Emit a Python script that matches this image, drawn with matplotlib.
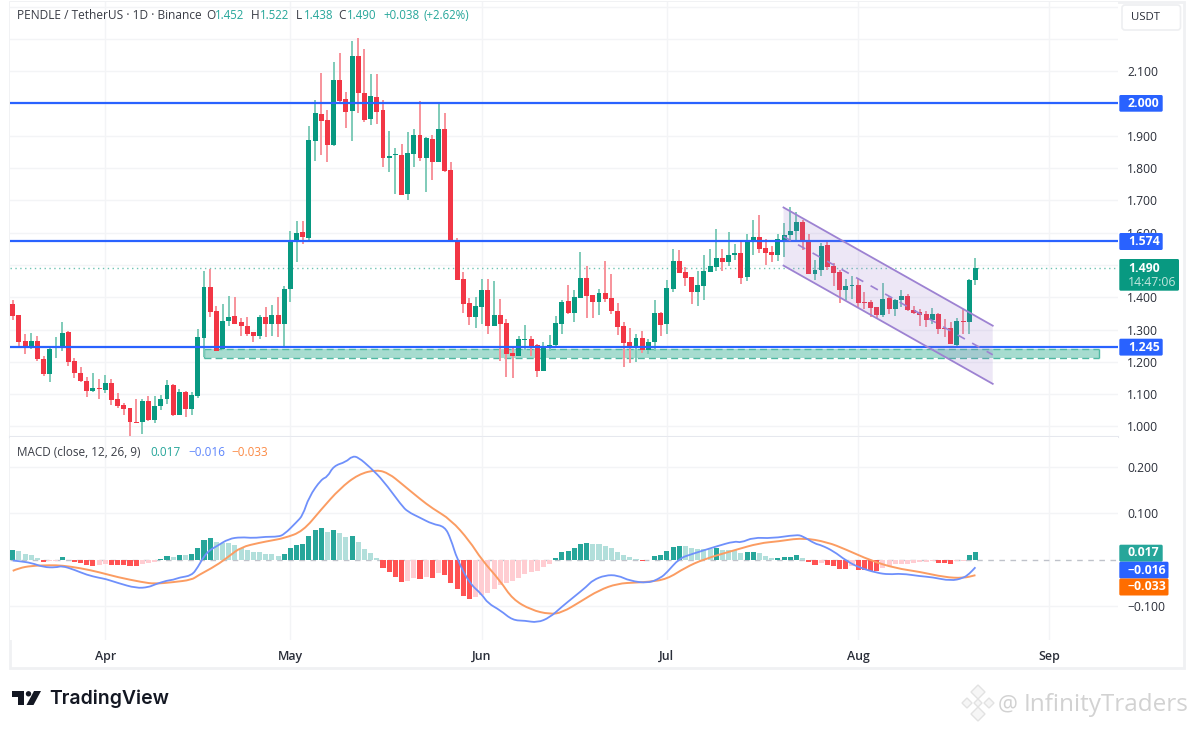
import matplotlib
matplotlib.use("Agg")
import matplotlib.pyplot as plt
from matplotlib.patches import Rectangle, FancyBboxPatch, Polygon, Circle, PathPatch
from matplotlib.path import Path

W, H = 1195, 729

# daily candles, first one is 17 March, last one 20 August
opens = [1.378,1.345,1.264,1.246,1.266,1.210,1.163,1.242,1.246,1.292,
         1.202,1.167,1.142,1.109,1.118,1.113,1.134,1.084,1.066,1.058,
         1.015,1.014,1.078,1.020,1.064,1.086,1.127,1.037,1.106,1.053,
         1.095,1.275,1.432,1.359,1.239,1.326,1.341,1.322,1.310,1.291,
         1.281,1.339,1.318,1.345,1.318,1.426,1.574,1.603,1.584,1.884,
         1.967,1.948,1.870,2.072,2.014,1.977,2.146,2.033,1.952,2.020,
         1.979,1.832,1.839,1.840,1.721,1.845,1.902,1.832,1.889,1.820,
         1.921,1.793,1.576,1.456,1.382,1.339,1.370,1.421,1.312,1.345,
         1.320,1.227,1.219,1.269,1.272,1.252,1.173,1.248,1.252,1.318,
         1.388,1.351,1.399,1.460,1.407,1.385,1.413,1.398,1.357,1.310,
         1.261,1.244,1.274,1.237,1.260,1.351,1.316,1.427,1.512,1.478,
         1.462,1.416,1.436,1.479,1.495,1.522,1.509,1.530,1.537,1.463,
         1.575,1.586,1.553,1.540,1.531,1.576,1.593,1.605,1.632,1.574,
         1.473,1.483,1.561,1.498,1.477,1.423,1.434,1.437,1.384,1.384,
         1.370,1.345,1.398,1.364,1.390,1.403,1.360,1.353,1.347,1.330,
         1.347,1.305,1.304,1.252,1.326,1.322,1.452]
highs = [1.390,1.346,1.285,1.289,1.279,1.217,1.246,1.277,1.323,1.297,
         1.213,1.184,1.153,1.165,1.146,1.159,1.146,1.103,1.072,1.058,
         1.084,1.086,1.095,1.093,1.099,1.144,1.132,1.115,1.111,1.107,
         1.303,1.481,1.489,1.372,1.378,1.405,1.401,1.335,1.339,1.293,
         1.345,1.370,1.376,1.401,1.434,1.605,1.636,1.636,1.929,2.010,
         2.095,1.979,2.128,2.157,2.035,2.192,2.202,2.169,2.091,2.091,
         2.010,1.915,1.863,1.874,1.911,1.921,2.008,1.896,1.901,2.000,
         1.971,1.819,1.584,1.479,1.398,1.401,1.458,1.456,1.450,1.394,
         1.332,1.246,1.279,1.314,1.279,1.256,1.260,1.283,1.341,1.392,
         1.438,1.421,1.540,1.498,1.407,1.425,1.512,1.471,1.382,1.322,
         1.304,1.285,1.297,1.271,1.390,1.353,1.454,1.550,1.545,1.494,
         1.463,1.481,1.530,1.549,1.611,1.550,1.602,1.564,1.574,1.597,
         1.640,1.655,1.581,1.558,1.597,1.630,1.680,1.663,1.640,1.597,
         1.514,1.568,1.571,1.506,1.483,1.456,1.465,1.461,1.415,1.392,
         1.370,1.444,1.403,1.395,1.421,1.411,1.372,1.363,1.359,1.367,
         1.351,1.332,1.322,1.335,1.363,1.456,1.522]
lows = [1.330,1.246,1.223,1.240,1.202,1.155,1.138,1.213,1.233,1.188,
        1.151,1.137,1.091,1.106,1.086,1.103,1.068,1.058,1.035,0.971,
        1.010,0.977,1.016,1.010,1.051,1.070,1.033,1.035,1.029,1.035,
        1.089,1.215,1.339,1.233,1.237,1.312,1.316,1.281,1.281,1.262,
        1.270,1.277,1.281,1.277,1.246,1.385,1.509,1.566,1.574,1.822,
        1.841,1.819,1.868,1.998,1.925,1.884,1.969,1.944,1.934,1.936,
        1.803,1.789,1.721,1.717,1.702,1.803,1.822,1.727,1.764,1.818,
        1.789,1.570,1.452,1.351,1.314,1.306,1.318,1.287,1.310,1.204,
        1.153,1.151,1.217,1.237,1.217,1.153,1.171,1.233,1.250,1.287,
        1.347,1.323,1.397,1.337,1.337,1.345,1.386,1.347,1.283,1.184,
        1.198,1.199,1.227,1.225,1.235,1.279,1.285,1.416,1.475,1.434,
        1.378,1.372,1.392,1.477,1.481,1.481,1.498,1.514,1.442,1.450,
        1.531,1.537,1.500,1.510,1.512,1.525,1.576,1.576,1.547,1.473,
        1.452,1.467,1.485,1.436,1.382,1.390,1.395,1.368,1.365,1.339,
        1.334,1.339,1.347,1.341,1.370,1.359,1.347,1.312,1.308,1.318,
        1.287,1.277,1.254,1.250,1.287,1.287,1.438]
closes = [1.343,1.262,1.246,1.266,1.208,1.163,1.239,1.246,1.289,1.200,
          1.165,1.140,1.109,1.119,1.116,1.134,1.082,1.064,1.053,1.014,
          1.012,1.078,1.020,1.062,1.084,1.127,1.035,1.106,1.053,1.097,
          1.277,1.432,1.355,1.235,1.326,1.339,1.318,1.310,1.287,1.281,
          1.339,1.318,1.345,1.316,1.427,1.574,1.599,1.587,1.886,1.971,
          1.946,1.870,2.072,2.008,1.975,2.146,2.031,1.948,2.022,1.974,
          1.832,1.836,1.842,1.717,1.847,1.902,1.832,1.893,1.820,1.921,
          1.791,1.574,1.454,1.380,1.339,1.372,1.421,1.312,1.345,1.318,
          1.225,1.219,1.270,1.272,1.248,1.173,1.248,1.251,1.320,1.384,
          1.351,1.401,1.460,1.405,1.385,1.413,1.395,1.357,1.308,1.258,
          1.244,1.273,1.237,1.260,1.351,1.314,1.428,1.512,1.476,1.460,
          1.416,1.437,1.480,1.496,1.521,1.509,1.530,1.537,1.461,1.576,
          1.586,1.550,1.537,1.531,1.581,1.592,1.605,1.632,1.576,1.473,
          1.483,1.558,1.494,1.476,1.423,1.434,1.437,1.383,1.382,1.368,
          1.345,1.394,1.363,1.390,1.403,1.361,1.351,1.345,1.330,1.347,
          1.303,1.302,1.254,1.326,1.323,1.452,1.490]

# macd histogram, one value per candle
hist = [.0215,.018,.012,.011,.0036,-.005,-.002,-.0015,.0057,-.0007,
        -.0043,-.0072,-.0108,-.0136,-.0122,-.0100,-.0108,-.0115,-.0118,-.0129,
        -.0136,-.0086,-.0079,-.005,.0022,.0079,.005,.01,.01,.0129,
        .0251,.0416,.0466,.0373,.0366,.0358,.0308,.0251,.0215,.0172,
        .0172,.0129,.0129,.0086,.0129,.0244,.0315,.0344,.0516,.0645,
        .0688,.0602,.0645,.0573,.0487,.0502,.0387,.0229,.0143,.0029,
        -.0172,-.0265,-.0358,-.0466,-.0452,-.0394,-.0416,-.0373,-.0387,-.0287,
        -.033,-.0502,-.0631,-.0774,-.0832,-.0803,-.076,-.0703,-.0616,-.0545,
        -.0502,-.0444,-.0394,-.0315,-.0258,-.0244,-.0158,-.0086,.0029,.0158,
        .0186,.0251,.0344,.0351,.033,.033,.0301,.0258,.0172,.01,
        .0057,.0022,-.0022,-.0007,.0072,.01,.0179,.0272,.0301,.0294,
        .0244,.0237,.0229,.0222,.0244,.0215,.0208,.0201,.0143,.0158,
        .0165,.0143,.0086,.0036,.0043,.0057,.0065,.0093,.0029,-.0057,
        -.0115,-.0072,-.0108,-.0143,-.0194,-.0201,-.0143,-.0215,-.0229,-.0237,
        -.0244,-.0172,-.0129,-.01,-.0086,-.0086,-.0072,-.0057,-.0043,-.0036,
        -.0065,-.0072,-.0086,-.0036,-.0022,.0093,.017]

# macd and signal lines, read at these candle numbers
macd_days = [0,1,3,5,7,8,10,12,14,15,17,20,22,23,25,26,27,29,30,31,32,33,35,37,39,41,43,44,46,47,48,
             50,51,52,54,55,56,58,60,63,64,66,68,70,71,72,74,76,77,79,81,83,85,87,89,91,93,94,96,98,
             100,103,105,106,108,110,114,117,118,120,123,127,128,130,131,133,135,137,140,142,144,147,
             149,152,154,155,156]
macd_vals = [-.0014,-.0029,-.0065,-.0158,-.0165,-.0129,-.0215,-.0323,-.0387,-.0409,-.0495,-.0609,-.0588,
             -.0530,-.0444,-.043,-.038,-.0337,-.0158,.0079,.0215,.0287,.0452,.0487,.0466,.0495,.0495,
             .0545,.081,.0953,.1348,.1728,.1778,.2014,.21,.2222,.2201,.1971,.1706,.1168,.1032,.0903,
             .0767,.0717,.0444,.0014,-.0502,-.0738,-.0932,-.1082,-.1297,-.1305,-.1348,-.124,-.1004,
             -.0789,-.0573,-.0437,-.033,-.033,-.0452,-.0502,-.0387,-.0272,.0029,.0122,.0287,.0401,
             .0366,.048,.0459,.0538,.0509,.0344,.0315,.0186,-.0014,-.0158,-.028,-.0315,-.0294,-.0351,
             -.0373,-.0452,-.0394,-.0301,-.016]
signal_days = [0,1,3,6,8,11,14,17,21,23,26,29,30,33,35,37,40,42,44,47,50,53,56,59,61,63,66,68,71,74,76,
               79,81,84,87,89,92,95,98,101,103,106,109,112,117,121,124,128,132,135,139,143,147,151,154,156]
signal_vals = [-.0237,-.0179,-.0129,-.0115,-.0122,-.0179,-.0265,-.0373,-.048,-.0516,-.048,-.043,-.0337,
               -.0122,.0072,.0272,.0366,.0416,.0466,.0609,.1082,.1527,.1835,.1935,.1849,.1634,.1305,
               .1104,.086,.0409,0,-.0452,-.0846,-.1075,-.1168,-.1133,-.0896,-.0652,-.0509,-.0487,-.0473,
               -.0416,-.0165,.0014,.0208,.0358,.0394,.0473,.038,.0222,-.0014,-.0179,-.0258,-.0373,-.0394,-.033]

levels = [2.000, 1.574, 1.245]
last_price = 1.490
zone_days = (31, 176)
zone_prices = (1.2128, 1.2395)
channel_days = (124.9, 158.8)
channel_upper = (1.678, 1.312)
channel_lower = (1.498, 1.132)

price_ticks = [1.0,1.1,1.2,1.3,1.4,1.5,1.6,1.7,1.8,1.9,2.0,2.1,2.2,2.3]
price_ticks_shown = ["1.000","1.100","1.200","1.300","1.400","","1.600","1.700","1.800","1.900","","2.100","",""]
macd_ticks = [-0.1, 0.1, 0.2]
macd_tick_labels = ["\u22120.100", "0.100", "0.200"]
month_days = [15, 45, 76, 106, 137, 168]
month_labels = ["Apr", "May", "Jun", "Jul", "Aug", "Sep"]

UP, DOWN = "#089981", "#f23645"
UP_WICK, DOWN_WICK = "#7fcbb9", "#f7939b"
BLUE, ORANGE = "#2962ff", "#ff6d00"
TEXT = "#3a3d46"
GRID = "#f3f4f6"
FONT = "Open Sans"

plt.rcParams["font.family"] = FONT

fig = plt.figure(figsize=(W / 100, H / 100), dpi=100, facecolor="white")


def pane(left, top, right, bottom):
    return fig.add_axes([left / W, 1 - bottom / H, (right - left) / W, (bottom - top) / H])


def put(x, y, s, color=TEXT, size=8.6, **kw):
    # text placed in picture pixels
    return fig.text(x / W, 1 - y / H, s, color=color, fontsize=size, va="center", **kw)


def box(x0, y0, x1, y1, color, zorder=5):
    p = FancyBboxPatch((x0, H - y1), x1 - x0, y1 - y0, boxstyle="round,pad=0,rounding_size=1.5",
                       transform=None, facecolor=color, edgecolor="none", zorder=zorder)
    # transform=None means display pixels at dpi 100
    fig.add_artist(p)


def soft_line(a, xs, ys, color, lw, zorder):
    # rounded corners between the read points, the tv lines are not angular
    pts = list(zip(xs, ys))
    verts, codes = [pts[0]], [Path.MOVETO]
    for p, q in zip(pts[1:-1], pts[2:]):
        verts += [p, ((p[0] + q[0]) / 2, (p[1] + q[1]) / 2)]
        codes += [Path.CURVE3, Path.CURVE3]
    verts.append(pts[-1])
    codes.append(Path.LINETO)
    a.add_patch(PathPatch(Path(verts, codes), fill=False, edgecolor=color, lw=lw, zorder=zorder))


ax = pane(10, 2, 1118, 436.5)
ax2 = pane(10, 436.5, 1118, 640)
for a in (ax, ax2):
    a.set_xlim(-0.44, 179.1)
    for s in a.spines.values():
        s.set_visible(False)
    a.set_xticks(month_days)
    a.grid(True, color=GRID, lw=1)
    a.set_axisbelow(True)
    a.yaxis.tick_right()
    a.tick_params(length=0, labelcolor="#2a2e39", labelsize=8.7, pad=6.5)
    for t in a.get_yticklabels():
        t.set_ha("left")

ax.set_ylim(0.969, 2.314)
ax.set_yticks(price_ticks)
ax.set_yticklabels(price_ticks_shown)
ax.set_xticklabels([])
ax.axhline(0.969, color="#e6e8ee", lw=1.5, clip_on=False)

# zone and levels
ax.add_patch(Rectangle((zone_days[0], zone_prices[0]), zone_days[1] - zone_days[0],
                       zone_prices[1] - zone_prices[0], facecolor="#a6dccf", edgecolor="none", zorder=1))
ax.hlines(zone_prices, zone_days[0], zone_days[1], color="#4fb8a2", lw=1, linestyles=(0, (5, 3)), zorder=1.1)
ax.vlines(zone_days, zone_prices[0], zone_prices[1], color="#4fb8a2", lw=1, zorder=1.1)
ax.axhline(last_price, color="#6fc4b3", lw=1, ls=(0, (1, 2.5)), zorder=1.5)

# candles
days = list(range(len(opens)))
body_bottom = [min(o, c) for o, c in zip(opens, closes)]
body_size = [max(abs(o - c), 0.003) for o, c in zip(opens, closes)]
candle_up = [c >= o for o, c in zip(opens, closes)]
ax.vlines(days, lows, highs, colors=[UP_WICK if u else DOWN_WICK for u in candle_up], lw=1.4, zorder=2)
ax.bar(days, body_size, bottom=body_bottom, width=0.8,
       color=[UP if u else DOWN for u in candle_up], linewidth=0, zorder=3)

ax.hlines(levels, -0.44, 179.1, color=BLUE, lw=1.6, zorder=4)

# falling channel
ax.add_patch(Polygon([(channel_days[0], channel_upper[0]), (channel_days[1], channel_upper[1]),
                      (channel_days[1], channel_lower[1]), (channel_days[0], channel_lower[0])],
                     closed=True, facecolor="#9575cd", alpha=0.17, edgecolor="none", zorder=4.5))
ax.plot(channel_days, channel_upper, color="#9d82d2", lw=1.3, zorder=4.6)
ax.plot(channel_days, channel_lower, color="#9d82d2", lw=1.3, zorder=4.6)
ax.plot(channel_days, [(u + l) / 2 for u, l in zip(channel_upper, channel_lower)],
        color="#9d82d2", lw=1.2, ls=(0, (5, 5)), zorder=4.6)

# macd pane
ax2.set_ylim(-0.172, 0.2645)
ax2.set_yticks(macd_ticks)
ax2.set_yticklabels(macd_tick_labels)
ax2.set_xticklabels(month_labels)
ax2.tick_params(axis="x", pad=7, labelsize=8.9, labelcolor="#2a2e39")
for t in ax2.get_xticklabels():
    t.set_fontweight("semibold")
ax2.axhline(0, color="#bfc2ca", lw=1, ls=(0, (4, 4)), zorder=1)

bar_colors = []
for i, v in enumerate(hist):
    prev = hist[i - 1] if i else 0
    if v >= 0:
        bar_colors.append("#26a69a" if v > prev else "#b2dfdb")
    else:
        bar_colors.append("#ff5252" if v < prev else "#ffcdd2")
ax2.bar(days, hist, width=0.82, color=bar_colors, linewidth=0, zorder=2)
soft_line(ax2, signal_days, signal_vals, "#fb9c62", 1.4, 3)
soft_line(ax2, macd_days, macd_vals, "#6f90fb", 1.3, 3.5)

# frame
fig.add_artist(Rectangle((9.5, H - 668), 1174.5, 666.5, transform=None, fill=False, edgecolor="#f0f1f3", lw=2, zorder=0))

# header text
put(17, 15.5, "PENDLE / TetherUS \u00b7 1D \u00b7 Binance", size=8.55)
for x, lab, xv, val in [(206, "O", 215, "1.452"), (251, "H", 260, "1.522"), (296, "L", 304, "1.438"), (338, "C", 347, "1.490")]:
    put(x, 15.5, lab, size=8.6)
    put(xv, 15.5, val, color="#26a69a", size=8.3)
put(383, 15.5, "+0.038", color="#26a69a", size=8.3)
put(423, 15.5, "(+2.62%)", color="#26a69a", size=8.3)

put(17, 452, "MACD (close, 12, 26, 9)", size=8.5)
put(150, 452, "0.017", color="#26a69a", size=8.5)
put(188, 452, "\u22120.016", color="#5d85fc", size=8.5)
put(231, 452, "\u22120.033", color="#fb8a45", size=8.5)

# axis tags
fig.add_artist(FancyBboxPatch((1122, H - 30), 58.5, 25, boxstyle="round,pad=0,rounding_size=3", transform=None,
                              facecolor="white", edgecolor="#eeeff1", lw=1.2, zorder=5))
put(1131, 18, "USDT", color="#2a2e39", size=8.2, zorder=6)

for y0, y1, s in [(95, 111.7, "2.000"), (233, 250, "1.574"), (338.7, 355.6, "1.245")]:
    box(1119.3, y0, 1162.7, y1, BLUE)
    put(1128, (y0 + y1) / 2, s, color="white", size=8.8, fontweight="bold", zorder=6)

box(1119.3, 259, 1179, 290.7, UP)
put(1128, 268.5, "1.490", color="white", size=8.8, fontweight="bold", zorder=6)
put(1128, 282, "14:47:06", color="#bfe6dd", size=8.8, zorder=6)

box(1119.3, 544.7, 1162.7, 561.7, "#26a69a")
put(1127, 553, "0.017", color="white", size=8.8, fontweight="bold", zorder=6)
box(1119.3, 561.7, 1168.5, 578.5, BLUE, zorder=5.1)
put(1127, 570, "\u22120.016", color="white", size=8.8, fontweight="bold", zorder=6)
box(1119.3, 578.5, 1168.5, 595.5, ORANGE, zorder=5.1)
put(1127, 587, "\u22120.033", color="white", size=8.8, fontweight="bold", zorder=6)

# tradingview logo
LOGO = "#131722"
fig.add_artist(Polygon([(12, H - 691), (24, H - 691), (24, H - 705), (18, H - 705), (18, H - 696.5), (12, H - 696.5)],
                       transform=None, facecolor=LOGO, edgecolor="none"))
fig.add_artist(Circle((28.5, H - 693.8), 2.7, transform=None, facecolor=LOGO, edgecolor="none"))
fig.add_artist(Polygon([(34, H - 691), (41, H - 691), (33.5, H - 705), (26.5, H - 705)],
                       transform=None, facecolor=LOGO, edgecolor="none"))
put(49, 698.5, "TradingView", color=LOGO, size=14, family="Inter", fontweight="semibold")

# watermark
for cx, cy, r in [(978, 692, 7), (967, 703, 5), (989, 703, 5), (978, 703, 4), (978, 714, 7)]:
    fig.add_artist(Polygon([(cx, H - cy + r), (cx + r, H - cy), (cx, H - cy - r), (cx - r, H - cy)], transform=None,
                           facecolor="#f6f6f6", edgecolor="#e2e2e2", lw=1))
put(998, 705, "@", color="#d2d2d2", size=16)
put(1024, 705, "InfinityTraders", color="#d2d2d2", size=17.5)

fig.savefig("out.png", dpi=100)
